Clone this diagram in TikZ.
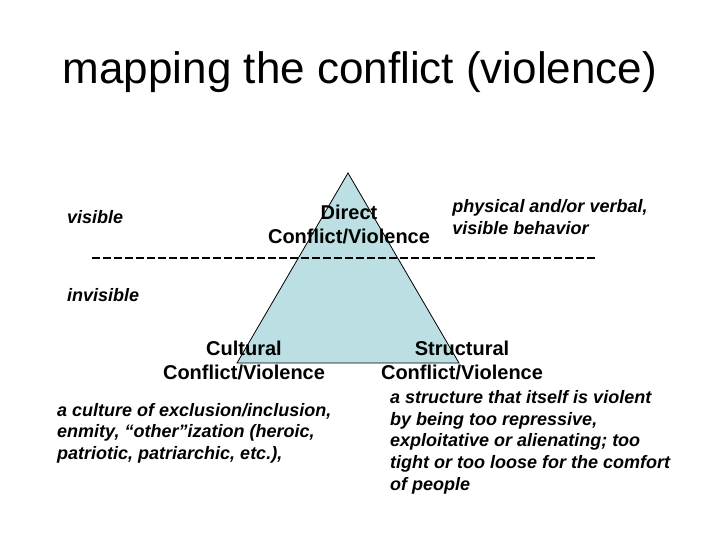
\documentclass[tikz,border=0pt]{standalone}
\usepackage{fontspec}
\setmainfont{Liberation Sans}
\definecolor{tri}{RGB}{187,223,227}
\begin{document}
\begin{tikzpicture}[x=1pt,y=-1pt,
  title/.style={inner sep=0pt,font=\fontsize{44}{50}\selectfont},
  lvl/.style={inner sep=0pt,align=center,font=\fontsize{20}{24}\selectfont\bfseries},
  note/.style={inner sep=0pt,align=left,font=\fontsize{18}{21.5}\selectfont\bfseries\itshape},
  sep/.style={line width=1.2pt,dash pattern=on 8pt off 3pt}]
\useasboundingbox (0,0) rectangle (720,540);
\fill[white] (0,0) rectangle (720,540);
\filldraw[fill=tri,draw=black,line width=0.8pt] (348,173) -- (459,363) -- (237,363) -- cycle;
\draw[sep] (92,258) -- (597,258);
\node[title,anchor=base] (t) at (360,84) {mapping the conflict (violence)};
\node[note,anchor=base west] (vis) at (67,223) {visible};
\node[note,anchor=base west] (invis) at (67,301) {invisible};
\node[lvl] (direct) at (349,224) {Direct\\Conflict/Violence};
\node[note] (phys) at (550,217) {physical and/or verbal,\\visible behavior};
\node[lvl] (cult) at (244,360) {Cultural\\Conflict/Violence};
\node[lvl] (struct) at (462,360) {Structural\\Conflict/Violence};
\node[note,anchor=north west] (cultd) at (57,403) {a culture of exclusion/inclusion,\\enmity, “other”ization (heroic,\\patriotic, patriarchic, etc.),};
\node[note,anchor=north west,font=\fontsize{18}{21.8}\selectfont\bfseries\itshape] (structd) at (390,390) {a structure that itself is violent\\by being too repressive,\\exploitative or alienating; too\\tight or too loose for the comfort\\of people};
\end{tikzpicture}
\end{document}
